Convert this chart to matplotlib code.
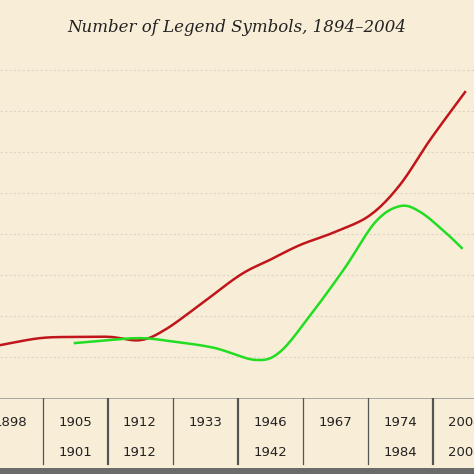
import numpy as np
import matplotlib.pyplot as plt

# x in table-column units (column 0 = 1898 column)
red_x = [-0.15, 0.46, 1.0, 1.54, 2.0, 2.38, 2.92, 3.54, 4.0, 4.46, 5.0, 5.54, 6.0, 6.46, 7.0]
red_y = [1.29, 1.46, 1.49, 1.49, 1.41, 1.66, 2.27, 3.0, 3.37, 3.73, 4.05, 4.46, 5.2, 6.29, 7.46]
green_x = [1.0, 1.38, 2.0, 2.54, 3.15, 3.77, 4.15, 4.62, 5.15, 5.62, 6.0, 6.31, 6.69, 6.95]
green_y = [1.34, 1.39, 1.46, 1.37, 1.22, 0.93, 1.12, 2.02, 3.17, 4.29, 4.68, 4.54, 4.05, 3.66]

top_row = ['1898', '1905', '1912', '1933', '1946', '1967', '1974', '2004']
bottom_row = ['', '1901', '1912', '', '1942', '', '1984', '2004']
bold_lines = [1, 3, 6]


def smooth(xs, ys, n=12):
    # Catmull-Rom curve through the points, for drawing only
    p = np.column_stack([xs, ys])
    p = np.vstack([p[0], p, p[-1]])
    out = []
    t = np.linspace(0, 1, n, endpoint=False)[:, None]
    for i in range(1, len(p) - 2):
        a, b, c, d = p[i - 1], p[i], p[i + 1], p[i + 2]
        out.append(0.5 * (2 * b + (-a + c) * t + (2 * a - 5 * b + 4 * c - d) * t ** 2
                          + (-a + 3 * b - 3 * c + d) * t ** 3))
    out.append(p[-2][None, :])
    out = np.vstack(out)
    return out[:, 0], out[:, 1]


bg = '#f8edd6'
W = 474
x0, x1 = (0 - 10) / 65, (474 - 10) / 65

fig = plt.figure(figsize=(4.74, 4.74), dpi=100, facecolor=bg)

ax = fig.add_axes([0, 76 / W, 1, 358 / W], facecolor=bg)
ax.set_xlim(x0, x1)
ax.set_ylim(0, 358 / 41)
for g in range(1, 9):
    ax.axhline(g, color='#ddd5c6', lw=0.8, ls=(0, (2, 2)), zorder=0)
ax.plot(*smooth(red_x, red_y), color='#c0161b', lw=1.8)
ax.plot(*smooth(green_x, green_y), color='#22dd22', lw=1.8)
ax.axis('off')

fig.text(0.5, 1 - 27 / W, 'Number of Legend Symbols, 1894–2004', ha='center', va='center',
         fontsize=12, style='italic', family='DejaVu Serif', color='#222222')

tb = fig.add_axes([0, 6 / W, 1, 70 / W], facecolor=bg)
tb.set_xlim(x0, x1)
tb.set_ylim(0, 70)
tb.axhline(70, color='#999999', lw=1.2)
for i in range(len(top_row)):
    tb.text(i, 46, top_row[i], ha='center', va='center', fontsize=9.5, color='#222222')
    tb.text(i, 16, bottom_row[i], ha='center', va='center', fontsize=9.5, color='#222222')
    if i < len(top_row) - 1:
        tb.plot([i + 0.5, i + 0.5], [4, 70], color='#555555',
                lw=1.6 if i in bold_lines else 0.9)
tb.axis('off')

band = fig.add_axes([0, 0, 1, 6 / W])
band.axis('off')
band.add_patch(plt.Rectangle((0, 0), 1, 1, color='#6b6b6b', transform=band.transAxes))

fig.savefig('out.png', dpi=100, facecolor=bg)
